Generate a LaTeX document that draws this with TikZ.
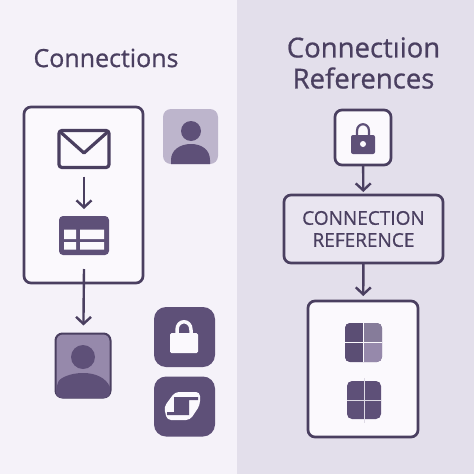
\documentclass[tikz,border=0pt]{standalone}
\usepackage{fontspec}
\setmainfont{Open Sans}
\newfontfamily\heavyfont[FakeBold=0.7]{Open Sans}
\usetikzlibrary{arrows.meta}
\definecolor{leftbg}{HTML}{F5F2F9}
\definecolor{rightbg}{HTML}{E3DFEB}
\definecolor{panel}{HTML}{FBF9FD}
\definecolor{refbg}{HTML}{E9E5F0}
\definecolor{ink}{HTML}{4A3F60}
\definecolor{tile}{HTML}{5E5078}
\definecolor{soft}{HTML}{BDB5CC}
\definecolor{mid}{HTML}{9689AB}
\begin{document}
\begin{tikzpicture}[x=1pt, y=-1pt,
    title/.style={text=ink, font=\heavyfont\fontsize{25}{31}\selectfont, align=center, inner sep=0pt},
    frame/.style={draw=ink, line width=2.7pt, fill=panel, rounded corners=7pt, inner sep=0pt, outer sep=0pt},
    icon/.style={fill=tile, rounded corners=4pt, inner sep=0pt, outer sep=0pt},
    tilebox/.style={fill=tile, rounded corners=12pt, minimum width=61pt, minimum height=60pt, inner sep=0pt, outer sep=0pt},
    arrow/.style={-{Straight Barb[length=7pt, width=15pt, line width=2.4pt]}, line width=2.4pt, color=ink}]

    \useasboundingbox (0,0) rectangle (474,474);
    \fill [leftbg] (0,0) rectangle (237,474);
    \fill [rightbg] (237,0) rectangle (474,474);

    \node (conn) [title] at (106,58) {Connections};
    \node (refs) [title, font=\heavyfont\fontsize{27.5}{31}\selectfont] at (363.5,63) {Connectıion\\References};

    \node (outer) [frame, minimum width=119pt, minimum height=176pt] at (83.5,195) {};
    \node (mail) [frame, line width=3.2pt, rounded corners=3pt, minimum width=50pt, minimum height=37pt] at (84,149) {};
    \draw [ink, line width=3.2pt, line join=round] ([shift={(2,2)}]mail.north west) -- ([shift={(0,4)}]mail.center) -- ([shift={(-2,2)}]mail.north east);
    \node (table) [icon, minimum width=50pt, minimum height=39pt] at (84,235.5) {};
    \fill [panel] (64,229.5) rectangle (76,239) (80,229.5) rectangle (104,239) (64,242) rectangle (76,249.5) (80,242) rectangle (104,249.5);

    \node (avatar) [fill=soft, rounded corners=8pt, inner sep=0pt, outer sep=0pt, minimum width=55pt, minimum height=55pt] at (190.5,136.5) {};
    \fill [tile] (191,131) circle [radius=10];
    \fill [tile] (171,164) -- (171,160) .. controls (171,150) and (180,144) .. (191,144) .. controls (202,144) and (210,150) .. (210,160) -- (210,164) -- cycle;

    \node (user) [fill=mid, draw=ink, line width=2pt, rounded corners=7pt, inner sep=0pt, outer sep=0pt, minimum width=55pt, minimum height=64pt] at (83,365.5) {};
    \fill [tile] (83,357) circle [radius=12];
    \fill [tile] (56,387) .. controls (60,378) and (70,373) .. (83,373) .. controls (96,373) and (106,378) .. (110,387) [rounded corners=6pt] -- (110,398) -- (56,398) -- cycle;

    \node (locktile) [tilebox] at (184.5,337) {};
    \draw [panel, line width=3.5pt] (177,335) -- (177,330) .. controls (177,319) and (191,319) .. (191,330) -- (191,335);
    \fill [panel, rounded corners=1.5pt] (170,333) rectangle (198,353);

    \node (linktile) [tilebox] at (184.5,406.5) {};
    \fill [panel, rounded corners=4pt] (175,392) -- (200,392) -- (200,405) -- (190,420) -- (167,420) -- (164,407) -- cycle;
    \fill [tile] (174,397) -- (198,397) -- (198,400) -- (189,400) -- (189,415) -- (167,415) -- (167,412) -- (174,412) -- cycle;

    \node (lockbox) [frame, minimum width=56pt, minimum height=55pt] at (363,137.5) {};
    \draw [tile, line width=2.2pt] (357,137) -- (357,131) .. controls (357,122) and (369,122) .. (369,131) -- (369,137);
    \fill [tile, rounded corners=2pt] (351,135) rectangle (375,154);
    \fill [panel] (363,144) circle [radius=3];

    \node (ref) [frame, fill=refbg, minimum width=159pt, minimum height=68pt, text=ink, font=\heavyfont\fontsize{19}{22}\selectfont, align=center] at (363.5,229) {CONNECTION\\REFERENCE};

    \node (app) [frame, minimum width=110pt, minimum height=136pt] at (363,369) {};
    \node (gridone) [icon, minimum width=37pt, minimum height=39pt, rounded corners=5pt] at (363.5,342.5) {};
    \begin{scope}
        \clip [rounded corners=5pt] (345,323) rectangle (382,362);
        \fill [tile!85!ink] (345,323) rectangle (364,362);
        \fill [tile!75!white] (364,323) rectangle (382,343);
        \fill [mid] (364,343) rectangle (382,362);
    \end{scope}
    \draw [panel, line width=1pt] (gridone.north) -- (gridone.south) (gridone.west) -- (gridone.east);
    \node (gridtwo) [icon, minimum width=34pt, minimum height=38pt, rounded corners=5pt] at (364,400) {};
    \draw [soft!50!white, line width=1pt] ([yshift=3]gridtwo.north) -- ([yshift=-4]gridtwo.south) (gridtwo.west) -- (gridtwo.east);

    \coordinate (stub) at (84,269);
    \draw [arrow, shorten <=9pt, shorten >=7pt] (mail) -- (table);
    \draw [arrow, shorten >=8pt] (stub) -- (user);
    \draw [arrow, shorten >=3pt] (lockbox) -- (ref);
    \draw [arrow, shorten >=5pt] (ref) -- (app);
\end{tikzpicture}
\end{document}
